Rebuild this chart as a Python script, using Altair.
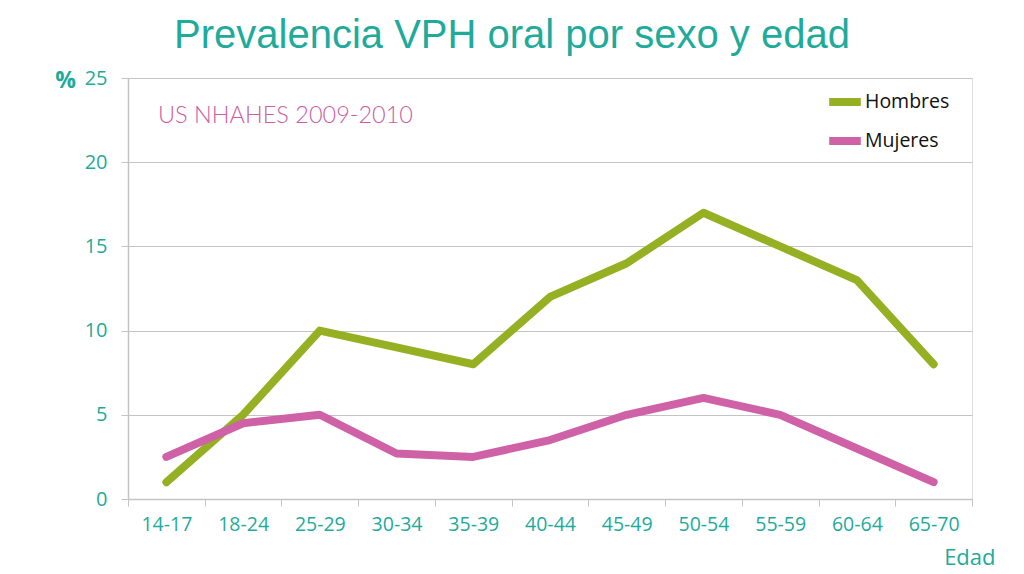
import altair as alt
import pandas as pd

categories = ["14-17", "18-24", "25-29", "30-34", "35-39", "40-44",
              "45-49", "50-54", "55-59", "60-64", "65-70"]
hombres = [1, 5, 10, 9, 8, 12, 14, 17, 15, 13, 8]
mujeres = [2.5, 4.5, 5, 2.7, 2.5, 3.5, 5, 6, 5, 3, 1]
series = ["Hombres", "Mujeres"]
colors = ["#95b022", "#cf62a6"]

TEAL = "#1fab9b"
GRID = "#c4c4c4"

rows = []
for c, v in zip(categories, hombres):
    rows.append({"Edad": c, "Sexo": "Hombres", "Valor": v})
for c, v in zip(categories, mujeres):
    rows.append({"Edad": c, "Sexo": "Mujeres", "Valor": v})
df = pd.DataFrame(rows)

x = alt.X(
    "Edad:N",
    sort=categories,
    bandPosition=0.5,
    scale=alt.Scale(type="band", paddingInner=0, paddingOuter=0),
    axis=alt.Axis(
        title="Edad", titleX=867, titleY=65, titleAlign="right",
        titleBaseline="alphabetic", titleColor=TEAL, titleFont="Open Sans",
        titleFontSize=22, titleFontWeight="normal",
        labelColor=TEAL, labelFont="Open Sans", labelFontSize=19.5,
        labelAngle=0, labelPadding=9, labelBaseline="top",
        tickBand="extent", tickColor=GRID, tickSize=7,
        domainColor=GRID, domainWidth=1.5, grid=False,
    ),
)

y = alt.Y(
    "Valor:Q",
    scale=alt.Scale(domain=[0, 25]),
    axis=alt.Axis(
        values=[0, 5, 10, 15, 20, 25], title="%", titleAngle=0,
        titleX=-63, titleY=2, titleAlign="center", titleBaseline="middle",
        titleColor=TEAL, titleFont="Open Sans", titleFontSize=23,
        titleFontWeight="bold",
        labelColor=TEAL, labelFont="Open Sans", labelFontSize=20,
        labelPadding=14, tickSize=7, tickColor=GRID,
        domainColor=GRID, domainWidth=1.5, gridColor=GRID, gridWidth=1,
    ),
)

lines = alt.Chart(df).mark_line(strokeWidth=8, strokeCap="round", strokeJoin="round").encode(
    x=x,
    y=y,
    color=alt.Color(
        "Sexo:N",
        scale=alt.Scale(domain=series, range=colors),
        legend=alt.Legend(
            title=None, orient="none", legendX=697, legendY=4,
            symbolType="stroke", symbolStrokeWidth=8, symbolSize=1000,
            labelFont="Open Sans", labelFontSize=19.5, labelColor="#111111",
            labelOffset=0, rowPadding=3,
        ),
    ),
)

note = alt.Chart(pd.DataFrame({"t": ["US NHAHES 2009-2010"]})).mark_text(
    align="left", baseline="middle", font="Lato", fontSize=23.5,
    fontWeight=300, color="#cc5ea2",
).encode(x=alt.value(30), y=alt.value(38), text="t:N")

chart = alt.layer(lines, note).properties(
    width=844, height=421,
    title=alt.TitleParams(
        "Prevalencia VPH oral por sexo y edad", font="Liberation Sans",
        fontSize=40, fontWeight="normal", color=TEAL, anchor="middle",
        dx=-38, offset=12,
    ),
    padding={"left": 128, "top": 78, "right": 52, "bottom": 75},
    autosize=alt.AutoSizeParams(type="none"),
).configure_view(stroke=None).configure(background="white")

chart.save("out.html", embed_options={"renderer": "svg", "actions": False})
